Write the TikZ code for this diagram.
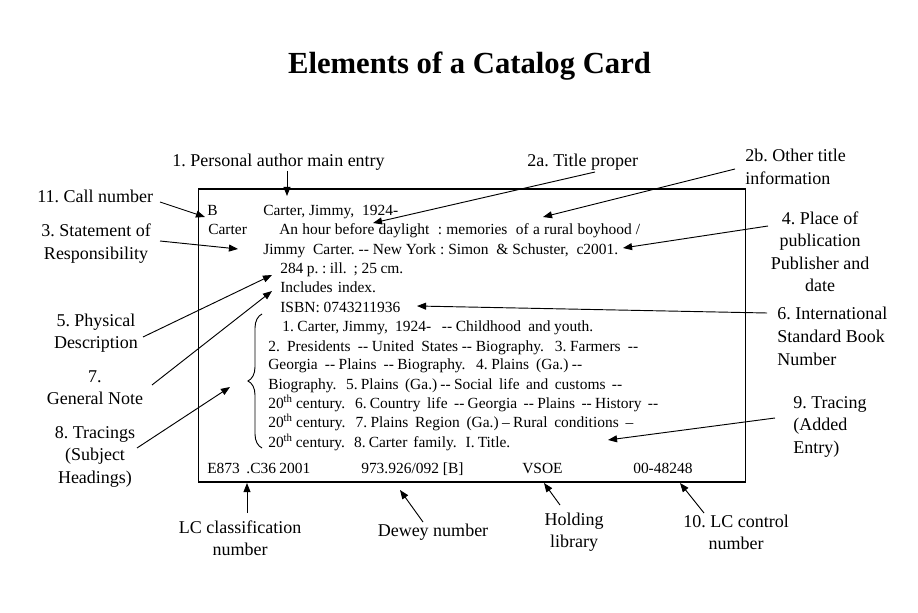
\documentclass[tikz,border=0pt]{standalone}
\usepackage{fontspec}
\setmainfont{Liberation Serif}
\usetikzlibrary{arrows.meta,decorations.pathreplacing}
\newcommand{\dblhy}{-\kern0pt-}
\begin{document}
\frenchspacing
\begin{tikzpicture}[x=0.75pt,y=-0.75pt,
  lbl/.style={inner sep=0pt, anchor=base, font=\fontsize{13.5}{16.9}\selectfont\frenchspacing},
  lbll/.style={inner sep=0pt, anchor=base west, font=\fontsize{13.5}{16.9}\selectfont\frenchspacing},
  cardtxt/.style={inner sep=0pt, anchor=base west, font=\fontsize{11.6}{14}\selectfont\frenchspacing},
  titletxt/.style={inner sep=0pt, anchor=base, font=\fontsize{23}{28}\selectfont\bfseries},
  arr/.style={line width=0.7pt, -{Triangle[length=6.8pt,width=5.2pt]}},
  cardbox/.style={line width=1pt}]
\fill[white] (0,0) rectangle (918,613);
\useasboundingbox (0,0) rectangle (918,613);

% title
\node[titletxt] (title) at (469.5,74) {Elements of a Catalog Card};

% card
\draw[cardbox] (198.5,189) rectangle (745.5,482);

\node[cardtxt] (c1a) at (207,216) {B};
\node[cardtxt] (c1b) at (263,216) {\makebox[101.25pt][s]{Carter, Jimmy,\ \ 1924-}};
\node[cardtxt] (c2a) at (208,235) {Carter};
\node[cardtxt] (c2b) at (279,235) {\makebox[270.75pt][s]{An hour before daylight\ \ : memories\ \ of a rural boyhood /}};
\node[cardtxt] (c3) at (263,255) {\makebox[266.25pt][s]{Jimmy\ \ Carter. \dblhy{} New York : Simon\ \ \& Schuster,\ \ c2001.}};
\node[cardtxt] (c4) at (280,273) {\makebox[92.25pt][s]{284 p. : ill.\ \ ; 25 cm.}};
\node[cardtxt] (c5) at (280,292) {\makebox[71.25pt][s]{Includes\ \ index.}};
\node[cardtxt] (c6) at (280,312) {ISBN: 0743211936};
\node[cardtxt] (c7) at (282,331) {\makebox[233.25pt][s]{1. Carter, Jimmy,\ \ 1924-\ \ \ \dblhy{} Childhood\ \ and youth.}};
\node[cardtxt] (c8) at (268,351) {\makebox[277.5pt][s]{2.\ \ Presidents\ \ \dblhy{} United\ \ States \dblhy{} Biography.\ \ \ 3. Farmers\ \ \dblhy}};
\node[cardtxt] (c9) at (268,369) {\makebox[235.5pt][s]{Georgia\ \ \dblhy{} Plains\ \ \dblhy{} Biography.\ \ \ 4. Plains\ \ (Ga.) \dblhy}};
\node[cardtxt] (c10) at (268,389) {\makebox[265.5pt][s]{Biography.\ \ \ 5. Plains\ \ (Ga.) \dblhy{} Social\ \ life\ \ and\ \ customs\ \ \dblhy}};
\node[cardtxt] (c11) at (268,408) {\makebox[292.5pt][s]{20\textsuperscript{th} century.\ \ \ 6. Country\ \ life\ \ \dblhy{} Georgia\ \ \dblhy{} Plains\ \ \dblhy{} History\ \ \dblhy}};
\node[cardtxt] (c12) at (268,427) {\makebox[273.75pt][s]{20\textsuperscript{th} century.\ \ \ 7. Plains\ \ Region\ \ (Ga.) \textendash{} Rural\ \ conditions\ \ \textendash}};
\node[cardtxt] (c13) at (268,447) {\makebox[181.5pt][s]{20\textsuperscript{th} century.\ \ \ 8. Carter\ \ family.\ \ \ I. Title.}};
\node[cardtxt] (b1) at (207,473) {\makebox[77.25pt][s]{E873\ \ .C36 2001}};
\node[cardtxt] (b2) at (361,473) {973.926/092 [B]};
\node[cardtxt] (b3) at (522,473) {VSOE};
\node[cardtxt] (b4) at (633,473) {00-48248};

% brace
\draw[line width=0.7pt, decorate, decoration={brace, amplitude=10.5pt}] (262,448) -- (262,314);

% labels
\node[lbll] (l1) at (172,167) {1. Personal author main entry};
\node[lbll] (l2a) at (527,167) {2a. Title proper};
\node[lbll] (l2b) at (745,162) {\begin{tabular}[t]{@{}l@{}}2b. Other title\\information\end{tabular}};
\node[lbll] (l11) at (37,203) {11. Call number};
\node[lbl] (l3) at (96,237) {\begin{tabular}[t]{@{}c@{}}3. Statement of\\Responsibility\end{tabular}};
\node[lbl] (l4) at (820,224) {\begin{tabular}[t]{@{}c@{}}4. Place of\\publication\\Publisher and\\date\end{tabular}};
\node[lbll] (l6) at (777,320) {\begin{tabular}[t]{@{}l@{}}6. International\\Standard Book\\Number\end{tabular}};
\node[lbl] (l5) at (96,326) {\begin{tabular}[t]{@{}c@{}}5. Physical\\Description\end{tabular}};
\node[lbl] (l7) at (95,382) {\begin{tabular}[t]{@{}c@{}}7.\\General Note\end{tabular}};
\node[lbl] (l8) at (95,438) {\begin{tabular}[t]{@{}c@{}}8. Tracings\\(Subject\\Headings)\end{tabular}};
\node[lbll] (l9) at (793,408) {\begin{tabular}[t]{@{}l@{}}9. Tracing\\(Added\\Entry)\end{tabular}};
\node[lbl] (lLC) at (240,533) {\begin{tabular}[t]{@{}c@{}}LC classification\\number\end{tabular}};
\node[lbl] (lDew) at (433,536) {Dewey number};
\node[lbl] (lHold) at (574,525) {\begin{tabular}[t]{@{}c@{}}Holding\\library\end{tabular}};
\node[lbl] (lLCC) at (736,527) {\begin{tabular}[t]{@{}c@{}}10. LC control\\number\end{tabular}};

% connector end points
\coordinate (s1) at (287,171);   \coordinate (t1) at (287,196);
\coordinate (s2a) at (595,172);  \coordinate (t2a) at (373,223);
\coordinate (s2b) at (735,169);  \coordinate (t2b) at (543,217);
\coordinate (s11) at (160,202);  \coordinate (t11) at (205,217);
\coordinate (s3) at (160,241);   \coordinate (t3) at (238,249);
\coordinate (s4) at (768,226);   \coordinate (t4) at (623,248);
\coordinate (s6) at (767,313);   \coordinate (t6) at (417,306);
\coordinate (s5) at (143,337);   \coordinate (t5) at (272,275);
\coordinate (s7) at (152,385);   \coordinate (t7) at (272,291);
\coordinate (s8) at (137,448);   \coordinate (t8) at (230,387);
\coordinate (s9) at (775,418);   \coordinate (t9) at (608,440);
\coordinate (sLC) at (247,513);  \coordinate (tLC) at (247,483);
\coordinate (sDew) at (423,522); \coordinate (tDew) at (400,490);
\coordinate (sHold) at (560,505);\coordinate (tHold) at (544,483);
\coordinate (sLCC) at (704,513); \coordinate (tLCC) at (680,483);

\foreach \k in {1,2a,2b,11,3,4,6,5,7,8,9,LC,Dew,Hold,LCC}
  \draw[arr] (s\k) -- (t\k);
\end{tikzpicture}
\end{document}
